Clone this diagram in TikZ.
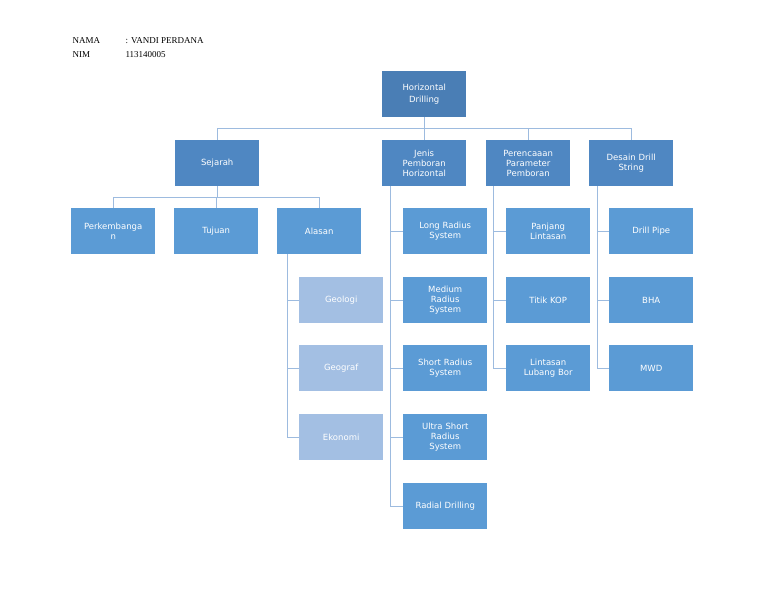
\documentclass[tikz,border=0pt]{standalone}
\usepackage{fontspec}
\setmainfont{Liberation Serif}
\newfontfamily\boxfont{DejaVu Sans}
\definecolor{rootblue}{HTML}{4A7EB5}
\definecolor{lvlone}{HTML}{4F87C2}
\definecolor{lvltwo}{HTML}{5B9BD5}
\definecolor{lvlthree}{HTML}{A3BFE3}
\definecolor{linkblue}{HTML}{9DBBDF}
\tikzset{
  box/.style={draw=none, fill=lvltwo, text=white, anchor=north west,
    minimum width=84pt, minimum height=46pt, inner sep=1pt,
    align=center, text width=82pt, font=\boxfont\fontsize{8.5}{10}\selectfont},
  topbox/.style={box, fill=rootblue},
  onebox/.style={box, fill=lvlone},
  paleBox/.style={box, fill=lvlthree},
  link/.style={draw=linkblue, line width=0.8pt}
}
\begin{document}
\begin{tikzpicture}[x=1pt,y=-1pt]
  \useasboundingbox (0,0) rectangle (768,594);
  % header
  \node[anchor=west, font=\fontsize{9}{10}\selectfont] (nama) at (69,41) {NAMA};
  \node[anchor=west, font=\fontsize{9}{10}\selectfont] (namav) at (122,41) {: VANDI PERDANA};
  \node[anchor=west, font=\fontsize{9}{10}\selectfont] (nim) at (69,55) {NIM};
  \node[anchor=west, font=\fontsize{9}{10}\selectfont] (nimv) at (122,55) {113140005};
  % boxes
  \node[topbox] (root) at (382,71) {Horizontal\\[2pt] Drilling};
  \node[onebox] (sejarah) at (175,140) {Sejarah};
  \node[onebox] (jenis) at (382,140) {Jenis\\Pemboran\\Horizontal};
  \node[onebox] (rencana) at (486,140) {Perencaaan\\Parameter\\Pemboran};
  \node[onebox] (desain) at (589,140) {Desain Drill\\String};
  \node[box] (kembang) at (71,208) {Perkembanga\\n};
  \node[box] (tujuan) at (174,208) {Tujuan};
  \node[box] (alasan) at (277,208) {Alasan};
  \node[paleBox] (geologi) at (299,277) {Geologi};
  \node[paleBox] (geografi) at (299,345) {Geograf};
  \node[paleBox] (ekonomi) at (299,414) {Ekonomi};
  \node[box] (long) at (403,208) {Long Radius\\System};
  \node[box] (medium) at (403,277) {Medium\\Radius\\System};
  \node[box] (short) at (403,345) {Short Radius\\System};
  \node[box] (ultra) at (403,414) {Ultra Short\\Radius\\System};
  \node[box] (radial) at (403,483) {Radial Drilling};
  \node[box] (panjang) at (506,208) {Panjang\\Lintasan};
  \node[box] (kop) at (506,277) {Titik KOP};
  \node[box] (lubang) at (506,345) {Lintasan\\Lubang Bor};
  \node[box] (pipe) at (609,208) {Drill Pipe};
  \node[box] (bha) at (609,277) {BHA};
  \node[box] (mwd) at (609,345) {MWD};
  % connectors
  \draw[link] (root.south) -- ++(0,11) -| (sejarah.north);
  \draw[link] (root.south) -- ++(0,11) -| (jenis.north);
  \draw[link] (root.south) -- ++(0,11) -| (rencana.north);
  \draw[link] (root.south) -- ++(0,11) -| (desain.north);
  \foreach \kid in {kembang,tujuan,alasan}
    \draw[link] (sejarah.south) -- ++(0,11) -| (\kid.north);
  \foreach \kid in {geologi,geografi,ekonomi}
    \draw[link] ([xshift=10pt]alasan.south west) |- (\kid.west);
  \foreach \kid in {long,medium,short,ultra,radial}
    \draw[link] ([xshift=8pt]jenis.south west) |- (\kid.west);
  \foreach \kid in {panjang,kop,lubang}
    \draw[link] ([xshift=7pt]rencana.south west) |- (\kid.west);
  \foreach \kid in {pipe,bha,mwd}
    \draw[link] ([xshift=8pt]desain.south west) |- (\kid.west);
\end{tikzpicture}
\end{document}
